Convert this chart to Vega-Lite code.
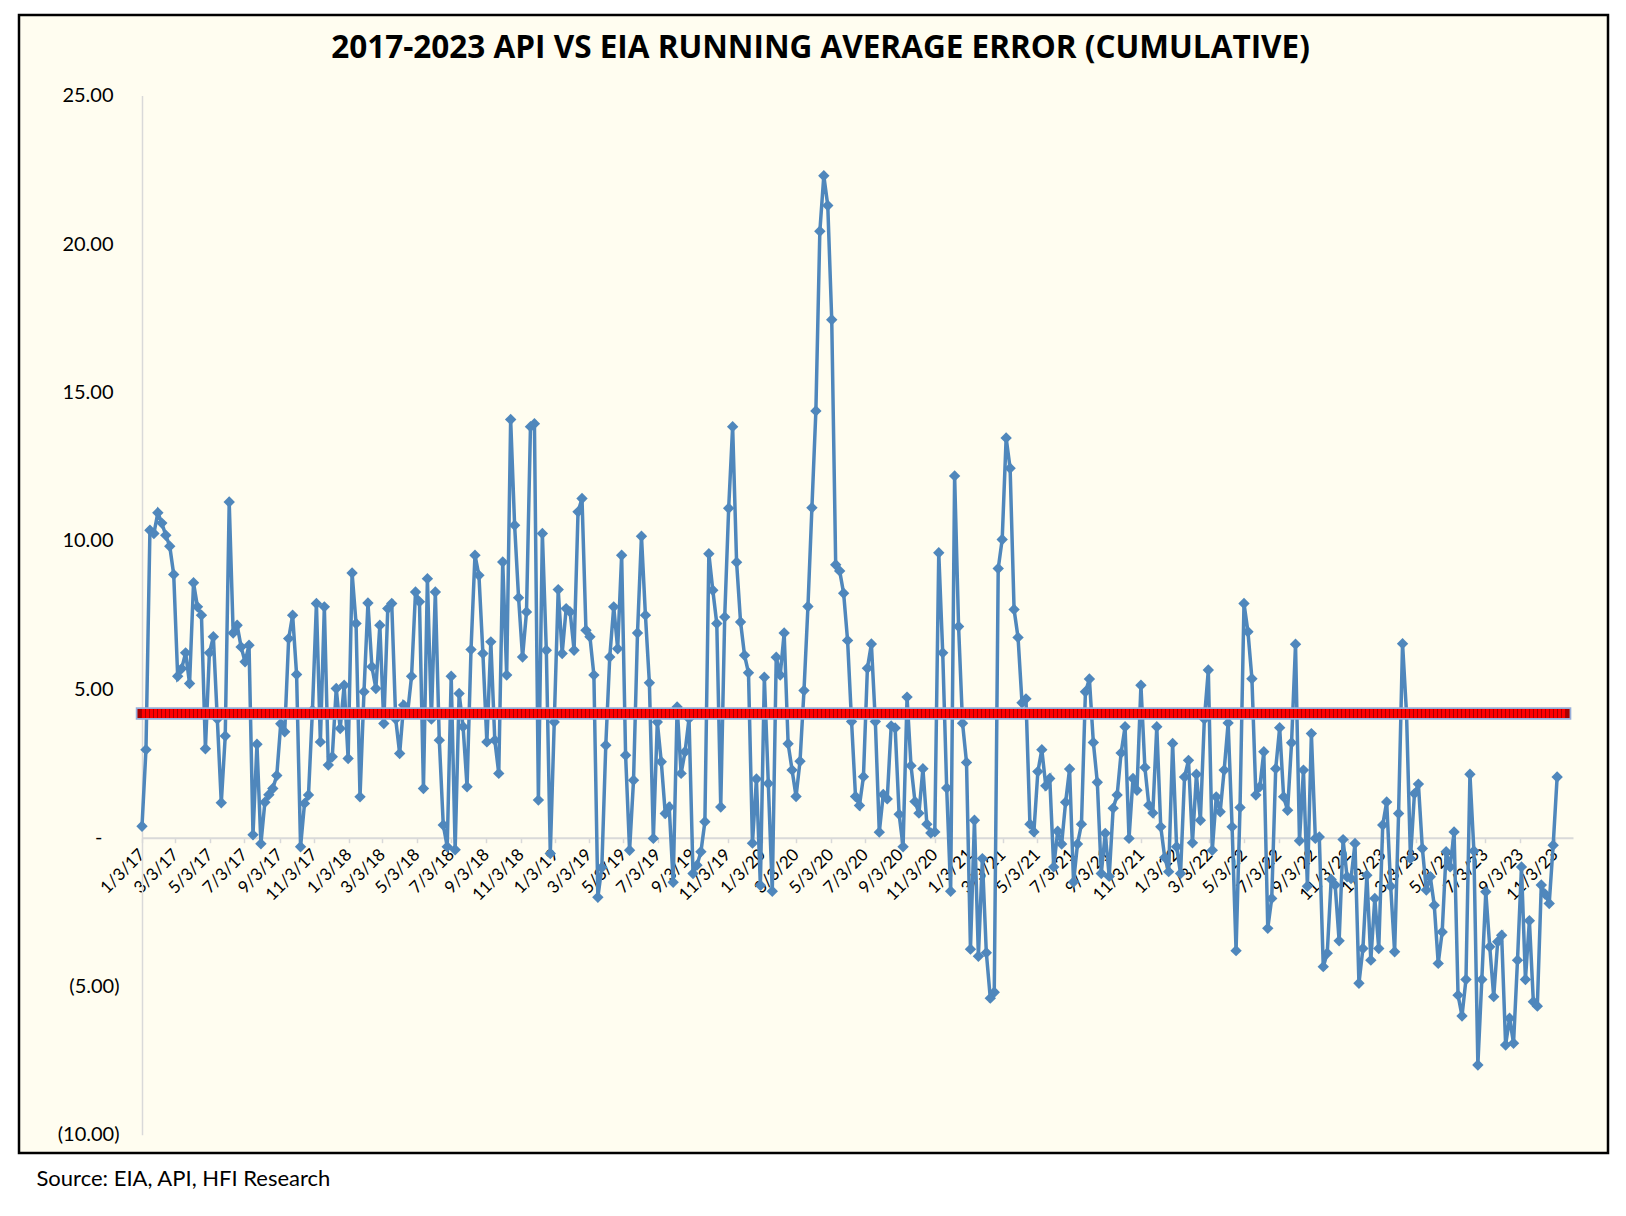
{
  "$schema": "https://vega.github.io/schema/vega-lite/v6.json",
  "width": 1589,
  "height": 1138,
  "autosize": {"type": "none"},
  "padding": {"left": 19, "top": 15, "right": 18, "bottom": 63},
  "background": "#ffffff",
  "config": {
    "view": {"fill": "#FFFDF0", "stroke": "#000000", "strokeWidth": 2.5}
  },
  "title": {
    "text": "2017-2023 API VS EIA RUNNING AVERAGE ERROR (CUMULATIVE)",
    "anchor": "middle",
    "frame": "group",
    "baseline": "alphabetic",
    "offset": -45,
    "dy": 29,
    "dx": 7,
    "font": "Open Sans",
    "fontSize": 31.5,
    "fontWeight": "bold",
    "color": "#000000"
  },
  "datasets": {
    "series": [
      {"d":"2017-01-03","v":0.39},{"d":"2017-01-10","v":2.97},{"d":"2017-01-17","v":10.36},{"d":"2017-01-24","v":10.25},{"d":"2017-01-31","v":10.95},
      {"d":"2017-02-07","v":10.6},{"d":"2017-02-14","v":10.19},{"d":"2017-02-21","v":9.82},{"d":"2017-02-28","v":8.87},
      {"d":"2017-03-07","v":5.44},{"d":"2017-03-14","v":5.7},{"d":"2017-03-21","v":6.23},{"d":"2017-03-28","v":5.2},
      {"d":"2017-04-04","v":8.59},{"d":"2017-04-11","v":7.78},{"d":"2017-04-18","v":7.5},{"d":"2017-04-25","v":3.0},
      {"d":"2017-05-02","v":6.23},{"d":"2017-05-09","v":6.77},{"d":"2017-05-16","v":4.0},{"d":"2017-05-23","v":1.18},{"d":"2017-05-30","v":3.43},
      {"d":"2017-06-06","v":11.31},{"d":"2017-06-13","v":6.9},{"d":"2017-06-20","v":7.16},{"d":"2017-06-27","v":6.43},
      {"d":"2017-07-04","v":5.93},{"d":"2017-07-11","v":6.49},{"d":"2017-07-18","v":0.1},{"d":"2017-07-25","v":3.15},
      {"d":"2017-08-01","v":-0.2},{"d":"2017-08-08","v":1.2},{"d":"2017-08-15","v":1.45},{"d":"2017-08-22","v":1.66},{"d":"2017-08-29","v":2.1},
      {"d":"2017-09-05","v":3.84},{"d":"2017-09-12","v":3.57},{"d":"2017-09-19","v":6.71},{"d":"2017-09-26","v":7.5},
      {"d":"2017-10-03","v":5.5},{"d":"2017-10-10","v":-0.3},{"d":"2017-10-17","v":1.16},{"d":"2017-10-24","v":1.44},{"d":"2017-10-31","v":4.3},
      {"d":"2017-11-07","v":7.89},{"d":"2017-11-14","v":3.23},{"d":"2017-11-21","v":7.78},{"d":"2017-11-28","v":2.45},
      {"d":"2017-12-05","v":2.73},{"d":"2017-12-12","v":5.03},{"d":"2017-12-19","v":3.68},{"d":"2017-12-26","v":5.14},
      {"d":"2018-01-02","v":2.67},{"d":"2018-01-09","v":8.92},{"d":"2018-01-16","v":7.22},{"d":"2018-01-23","v":1.38},{"d":"2018-01-30","v":4.92},
      {"d":"2018-02-06","v":7.91},{"d":"2018-02-13","v":5.76},{"d":"2018-02-20","v":5.03},{"d":"2018-02-27","v":7.16},
      {"d":"2018-03-06","v":3.85},{"d":"2018-03-13","v":7.72},{"d":"2018-03-20","v":7.89},{"d":"2018-03-27","v":4.0},
      {"d":"2018-04-03","v":2.84},{"d":"2018-04-10","v":4.47},{"d":"2018-04-17","v":4.2},{"d":"2018-04-24","v":5.44},
      {"d":"2018-05-01","v":8.28},{"d":"2018-05-08","v":7.95},{"d":"2018-05-15","v":1.66},{"d":"2018-05-22","v":8.73},{"d":"2018-05-29","v":4.0},
      {"d":"2018-06-05","v":8.28},{"d":"2018-06-12","v":3.29},{"d":"2018-06-19","v":0.43},{"d":"2018-06-26","v":-0.3},
      {"d":"2018-07-03","v":5.44},{"d":"2018-07-10","v":-0.4},{"d":"2018-07-17","v":4.86},{"d":"2018-07-24","v":3.74},{"d":"2018-07-31","v":1.72},
      {"d":"2018-08-07","v":6.34},{"d":"2018-08-14","v":9.52},{"d":"2018-08-21","v":8.84},{"d":"2018-08-28","v":6.21},
      {"d":"2018-09-04","v":3.23},{"d":"2018-09-11","v":6.6},{"d":"2018-09-18","v":3.29},{"d":"2018-09-25","v":2.17},
      {"d":"2018-10-02","v":9.29},{"d":"2018-10-09","v":5.48},{"d":"2018-10-16","v":14.09},{"d":"2018-10-23","v":10.53},{"d":"2018-10-30","v":8.09},
      {"d":"2018-11-06","v":6.09},{"d":"2018-11-13","v":7.61},{"d":"2018-11-20","v":13.85},{"d":"2018-11-27","v":13.95},
      {"d":"2018-12-04","v":1.27},{"d":"2018-12-11","v":10.25},{"d":"2018-12-18","v":6.32},{"d":"2018-12-25","v":-0.53},
      {"d":"2019-01-01","v":3.9},{"d":"2019-01-08","v":8.36},{"d":"2019-01-15","v":6.21},{"d":"2019-01-22","v":7.72},{"d":"2019-01-29","v":7.61},
      {"d":"2019-02-05","v":6.32},{"d":"2019-02-12","v":10.98},{"d":"2019-02-19","v":11.43},{"d":"2019-02-26","v":6.99},
      {"d":"2019-03-05","v":6.77},{"d":"2019-03-12","v":5.48},{"d":"2019-03-19","v":-2.0},{"d":"2019-03-26","v":-1.0},
      {"d":"2019-04-02","v":3.12},{"d":"2019-04-09","v":6.09},{"d":"2019-04-16","v":7.78},{"d":"2019-04-23","v":6.37},{"d":"2019-04-30","v":9.52},
      {"d":"2019-05-07","v":2.78},{"d":"2019-05-14","v":-0.42},{"d":"2019-05-21","v":1.94},{"d":"2019-05-28","v":6.9},
      {"d":"2019-06-04","v":10.16},{"d":"2019-06-11","v":7.5},{"d":"2019-06-18","v":5.22},{"d":"2019-06-25","v":-0.02},
      {"d":"2019-07-02","v":3.9},{"d":"2019-07-09","v":2.56},{"d":"2019-07-16","v":0.82},{"d":"2019-07-23","v":1.04},{"d":"2019-07-30","v":-1.5},
      {"d":"2019-08-06","v":4.41},{"d":"2019-08-13","v":2.17},{"d":"2019-08-20","v":2.9},{"d":"2019-08-27","v":4.02},
      {"d":"2019-09-03","v":-1.2},{"d":"2019-09-10","v":-0.92},{"d":"2019-09-17","v":-0.47},{"d":"2019-09-24","v":0.54},
      {"d":"2019-10-01","v":9.57},{"d":"2019-10-08","v":8.34},{"d":"2019-10-15","v":7.22},{"d":"2019-10-22","v":1.04},{"d":"2019-10-29","v":7.44},
      {"d":"2019-11-05","v":11.1},{"d":"2019-11-12","v":13.85},{"d":"2019-11-19","v":9.28},{"d":"2019-11-26","v":7.27},
      {"d":"2019-12-03","v":6.15},{"d":"2019-12-10","v":5.56},{"d":"2019-12-17","v":-0.18},{"d":"2019-12-24","v":1.98},{"d":"2019-12-31","v":-1.6},
      {"d":"2020-01-07","v":5.41},{"d":"2020-01-14","v":1.83},{"d":"2020-01-21","v":-1.8},{"d":"2020-01-28","v":6.08},
      {"d":"2020-02-04","v":5.48},{"d":"2020-02-11","v":6.9},{"d":"2020-02-18","v":3.17},{"d":"2020-02-25","v":2.28},
      {"d":"2020-03-03","v":1.39},{"d":"2020-03-10","v":2.58},{"d":"2020-03-17","v":4.96},{"d":"2020-03-24","v":7.79},{"d":"2020-03-31","v":11.12},
      {"d":"2020-04-07","v":14.38},{"d":"2020-04-14","v":20.43},{"d":"2020-04-21","v":22.3},{"d":"2020-04-28","v":21.3},
      {"d":"2020-05-05","v":17.45},{"d":"2020-05-12","v":9.2},{"d":"2020-05-19","v":8.99},{"d":"2020-05-26","v":8.24},
      {"d":"2020-06-02","v":6.65},{"d":"2020-06-09","v":3.92},{"d":"2020-06-16","v":1.39},{"d":"2020-06-23","v":1.09},{"d":"2020-06-30","v":2.06},
      {"d":"2020-07-07","v":5.71},{"d":"2020-07-14","v":6.53},{"d":"2020-07-21","v":3.92},{"d":"2020-07-28","v":0.19},
      {"d":"2020-08-04","v":1.46},{"d":"2020-08-11","v":1.31},{"d":"2020-08-18","v":3.77},{"d":"2020-08-25","v":3.7},
      {"d":"2020-09-01","v":0.79},{"d":"2020-09-08","v":-0.3},{"d":"2020-09-15","v":4.74},{"d":"2020-09-22","v":2.43},{"d":"2020-09-29","v":1.22},
      {"d":"2020-10-06","v":0.83},{"d":"2020-10-13","v":2.33},{"d":"2020-10-20","v":0.46},{"d":"2020-10-27","v":0.16},
      {"d":"2020-11-03","v":0.2},{"d":"2020-11-10","v":9.6},{"d":"2020-11-17","v":6.23},{"d":"2020-11-24","v":1.68},
      {"d":"2020-12-01","v":-1.8},{"d":"2020-12-08","v":12.19},{"d":"2020-12-15","v":7.12},{"d":"2020-12-22","v":3.86},{"d":"2020-12-29","v":2.54},
      {"d":"2021-01-05","v":-3.75},{"d":"2021-01-12","v":0.59},{"d":"2021-01-19","v":-3.99},{"d":"2021-01-26","v":-0.7},
      {"d":"2021-02-02","v":-3.87},{"d":"2021-02-09","v":-5.4},{"d":"2021-02-16","v":-5.2},{"d":"2021-02-23","v":9.07},
      {"d":"2021-03-02","v":10.05},{"d":"2021-03-09","v":13.47},{"d":"2021-03-16","v":12.45},{"d":"2021-03-23","v":7.69},{"d":"2021-03-30","v":6.75},
      {"d":"2021-04-06","v":4.55},{"d":"2021-04-13","v":4.68},{"d":"2021-04-20","v":0.46},{"d":"2021-04-27","v":0.2},
      {"d":"2021-05-04","v":2.23},{"d":"2021-05-11","v":2.97},{"d":"2021-05-18","v":1.75},{"d":"2021-05-25","v":2.0},
      {"d":"2021-06-01","v":-0.98},{"d":"2021-06-08","v":0.22},{"d":"2021-06-15","v":-0.21},{"d":"2021-06-22","v":1.2},{"d":"2021-06-29","v":2.32},
      {"d":"2021-07-06","v":-1.49},{"d":"2021-07-13","v":-0.21},{"d":"2021-07-20","v":0.46},{"d":"2021-07-27","v":4.92},
      {"d":"2021-08-03","v":5.35},{"d":"2021-08-10","v":3.21},{"d":"2021-08-17","v":1.87},{"d":"2021-08-24","v":-1.2},{"d":"2021-08-31","v":0.15},
      {"d":"2021-09-07","v":-1.3},{"d":"2021-09-14","v":1.0},{"d":"2021-09-21","v":1.44},{"d":"2021-09-28","v":2.86},
      {"d":"2021-10-05","v":3.74},{"d":"2021-10-12","v":-0.02},{"d":"2021-10-19","v":2.0},{"d":"2021-10-26","v":1.6},
      {"d":"2021-11-02","v":5.14},{"d":"2021-11-09","v":2.37},{"d":"2021-11-16","v":1.1},{"d":"2021-11-23","v":0.84},{"d":"2021-11-30","v":3.74},
      {"d":"2021-12-07","v":0.37},{"d":"2021-12-14","v":-0.66},{"d":"2021-12-21","v":-1.14},{"d":"2021-12-28","v":3.18},
      {"d":"2022-01-04","v":-0.3},{"d":"2022-01-11","v":-1.2},{"d":"2022-01-18","v":2.05},{"d":"2022-01-25","v":2.61},
      {"d":"2022-02-01","v":-0.17},{"d":"2022-02-08","v":2.14},{"d":"2022-02-15","v":0.59},{"d":"2022-02-22","v":4.0},
      {"d":"2022-03-01","v":5.65},{"d":"2022-03-08","v":-0.42},{"d":"2022-03-15","v":1.38},{"d":"2022-03-22","v":0.88},{"d":"2022-03-29","v":2.28},
      {"d":"2022-04-05","v":3.87},{"d":"2022-04-12","v":0.37},{"d":"2022-04-19","v":-3.8},{"d":"2022-04-26","v":1.02},
      {"d":"2022-05-03","v":7.89},{"d":"2022-05-10","v":6.94},{"d":"2022-05-17","v":5.36},{"d":"2022-05-24","v":1.44},{"d":"2022-05-31","v":1.72},
      {"d":"2022-06-07","v":2.9},{"d":"2022-06-14","v":-3.05},{"d":"2022-06-21","v":-2.04},{"d":"2022-06-28","v":2.33},
      {"d":"2022-07-05","v":3.71},{"d":"2022-07-12","v":1.38},{"d":"2022-07-19","v":0.93},{"d":"2022-07-26","v":3.2},
      {"d":"2022-08-02","v":6.52},{"d":"2022-08-09","v":-0.1},{"d":"2022-08-16","v":2.28},{"d":"2022-08-23","v":-1.63},{"d":"2022-08-30","v":3.51},
      {"d":"2022-09-06","v":-0.02},{"d":"2022-09-13","v":0.03},{"d":"2022-09-20","v":-4.34},{"d":"2022-09-27","v":-3.89},
      {"d":"2022-10-04","v":-1.4},{"d":"2022-10-11","v":-1.59},{"d":"2022-10-18","v":-3.47},{"d":"2022-10-25","v":-0.06},
      {"d":"2022-11-01","v":-1.31},{"d":"2022-11-08","v":-1.37},{"d":"2022-11-15","v":-0.19},{"d":"2022-11-22","v":-4.9},{"d":"2022-11-29","v":-3.73},
      {"d":"2022-12-06","v":-1.26},{"d":"2022-12-13","v":-4.12},{"d":"2022-12-20","v":-2.04},{"d":"2022-12-27","v":-3.73},
      {"d":"2023-01-03","v":0.43},{"d":"2023-01-10","v":1.21},{"d":"2023-01-17","v":-1.63},{"d":"2023-01-24","v":-3.84},{"d":"2023-01-31","v":0.82},
      {"d":"2023-02-07","v":6.54},{"d":"2023-02-14","v":4.2},{"d":"2023-02-21","v":-0.7},{"d":"2023-02-28","v":1.49},
      {"d":"2023-03-07","v":1.81},{"d":"2023-03-14","v":-0.36},{"d":"2023-03-21","v":-1.76},{"d":"2023-03-28","v":-1.31},
      {"d":"2023-04-04","v":-2.27},{"d":"2023-04-11","v":-4.23},{"d":"2023-04-18","v":-3.17},{"d":"2023-04-25","v":-0.47},
      {"d":"2023-05-02","v":-0.98},{"d":"2023-05-09","v":0.2},{"d":"2023-05-16","v":-5.3},{"d":"2023-05-23","v":-6.0},{"d":"2023-05-30","v":-4.77},
      {"d":"2023-06-06","v":2.14},{"d":"2023-06-13","v":-0.44},{"d":"2023-06-20","v":-7.65},{"d":"2023-06-27","v":-4.77},
      {"d":"2023-07-04","v":-1.82},{"d":"2023-07-11","v":-3.67},{"d":"2023-07-18","v":-5.35},{"d":"2023-07-25","v":-3.5},
      {"d":"2023-08-01","v":-3.28},{"d":"2023-08-08","v":-6.98},{"d":"2023-08-15","v":-6.08},{"d":"2023-08-22","v":-6.92},{"d":"2023-08-29","v":-4.12},
      {"d":"2023-09-05","v":-0.98},{"d":"2023-09-12","v":-4.77},{"d":"2023-09-19","v":-2.79},{"d":"2023-09-26","v":-5.52},
      {"d":"2023-10-03","v":-5.67},{"d":"2023-10-10","v":-1.59},{"d":"2023-10-17","v":-1.9},{"d":"2023-10-24","v":-2.21},{"d":"2023-10-31","v":-0.25},
      {"d":"2023-11-07","v":2.05}
    ],
    "average": [
      {"start": "2017-01-03", "end": "2023-11-21", "avg": 4.19}
    ]
  },
  "layer": [
    {
      "data": {"name": "series"},
      "mark": {"type": "line", "color": "#4F87BC", "strokeWidth": 3.5},
      "encoding": {
        "x": {
          "field": "d",
          "type": "temporal",
          "scale": {
            "type": "utc",
            "domain": [
              {"year": 2017, "month": 1, "date": 3, "utc": true},
              {"year": 2023, "month": 12, "date": 5, "utc": true}
            ],
            "range": [123, 1554]
          },
          "axis": {
            "orient": "bottom",
            "offset": -315.3,
            "tickCount": 100,
            "values": [
              {"year": 2017, "month": 1, "date": 3, "utc": true}, {"year": 2017, "month": 3, "date": 3, "utc": true},
              {"year": 2017, "month": 5, "date": 3, "utc": true}, {"year": 2017, "month": 7, "date": 3, "utc": true},
              {"year": 2017, "month": 9, "date": 3, "utc": true}, {"year": 2017, "month": 11, "date": 3, "utc": true},
              {"year": 2018, "month": 1, "date": 3, "utc": true}, {"year": 2018, "month": 3, "date": 3, "utc": true},
              {"year": 2018, "month": 5, "date": 3, "utc": true}, {"year": 2018, "month": 7, "date": 3, "utc": true},
              {"year": 2018, "month": 9, "date": 3, "utc": true}, {"year": 2018, "month": 11, "date": 3, "utc": true},
              {"year": 2019, "month": 1, "date": 3, "utc": true}, {"year": 2019, "month": 3, "date": 3, "utc": true},
              {"year": 2019, "month": 5, "date": 3, "utc": true}, {"year": 2019, "month": 7, "date": 3, "utc": true},
              {"year": 2019, "month": 9, "date": 3, "utc": true}, {"year": 2019, "month": 11, "date": 3, "utc": true},
              {"year": 2020, "month": 1, "date": 3, "utc": true}, {"year": 2020, "month": 3, "date": 3, "utc": true},
              {"year": 2020, "month": 5, "date": 3, "utc": true}, {"year": 2020, "month": 7, "date": 3, "utc": true},
              {"year": 2020, "month": 9, "date": 3, "utc": true}, {"year": 2020, "month": 11, "date": 3, "utc": true},
              {"year": 2021, "month": 1, "date": 3, "utc": true}, {"year": 2021, "month": 3, "date": 3, "utc": true},
              {"year": 2021, "month": 5, "date": 3, "utc": true}, {"year": 2021, "month": 7, "date": 3, "utc": true},
              {"year": 2021, "month": 9, "date": 3, "utc": true}, {"year": 2021, "month": 11, "date": 3, "utc": true},
              {"year": 2022, "month": 1, "date": 3, "utc": true}, {"year": 2022, "month": 3, "date": 3, "utc": true},
              {"year": 2022, "month": 5, "date": 3, "utc": true}, {"year": 2022, "month": 7, "date": 3, "utc": true},
              {"year": 2022, "month": 9, "date": 3, "utc": true}, {"year": 2022, "month": 11, "date": 3, "utc": true},
              {"year": 2023, "month": 1, "date": 3, "utc": true}, {"year": 2023, "month": 3, "date": 3, "utc": true},
              {"year": 2023, "month": 5, "date": 3, "utc": true}, {"year": 2023, "month": 7, "date": 3, "utc": true},
              {"year": 2023, "month": 9, "date": 3, "utc": true}, {"year": 2023, "month": 11, "date": 3, "utc": true}
            ],
            "labelExpr": "utcFormat(datum.value, '%-m/%-d/%y')",
            "labelAngle": -45,
            "labelAlign": "right",
            "labelBaseline": "middle",
            "labelFont": "Lato",
            "labelFontSize": 17,
            "labelColor": "#000000",
            "labelPadding": 9,
            "labelOverlap": false,
            "labelFlush": false,
            "labelBound": false,
            "tickSize": 5,
            "tickColor": "#D9D9D9",
            "tickWidth": 1.5,
            "domainColor": "#D9D9D9",
            "domainWidth": 2,
            "grid": false,
            "title": "Source: EIA, API, HFI Research",
            "titleX": 17,
            "titleY": 348,
            "titleAlign": "left",
            "titleAngle": 0,
            "titleBaseline": "alphabetic",
            "titleFont": "Lato",
            "titleFontSize": 22,
            "titleFontWeight": "normal",
            "titleColor": "#000000"
          }
        },
        "y": {
          "field": "v",
          "type": "quantitative",
          "scale": {"domain": [-10, 25], "range": [1119.7, 80.6], "nice": false, "zero": false},
          "axis": {
            "orient": "left",
            "offset": -123,
            "values": [-10, -5, 0, 5, 10, 15, 20, 25],
            "labelExpr": "datum.value == 0 ? '-' : (datum.value < 0 ? '(' + format(-datum.value, '.2f') + ')' : format(datum.value, '.2f'))",
            "labelFont": "Lato",
            "labelFontSize": 20,
            "labelColor": "#000000",
            "labelAlign": "right",
            "labelBaseline": "middle",
            "labelPadding": {
              "condition": [
                {"test": "datum.value == 0", "value": 40},
                {"test": "datum.value > 0", "value": 29}
              ],
              "value": 23
            },
            "ticks": false,
            "tickSize": 0,
            "domainColor": "#D9D9D9",
            "domainWidth": 1.5,
            "grid": false,
            "title": null
          }
        }
      }
    },
    {
      "data": {"name": "series"},
      "mark": {"type": "point", "shape": "diamond", "filled": true, "size": 130, "color": "#4F87BC", "opacity": 1},
      "encoding": {
        "x": {"field": "d", "type": "temporal"},
        "y": {"field": "v", "type": "quantitative"}
      }
    },
    {
      "data": {"name": "average"},
      "mark": {"type": "rule", "color": "#97AEDA", "strokeWidth": 12.5, "strokeCap": "square"},
      "encoding": {
        "x": {"field": "start", "type": "temporal"},
        "x2": {"field": "end"},
        "y": {"field": "avg", "type": "quantitative"}
      }
    },
    {
      "data": {"name": "average"},
      "mark": {"type": "rule", "color": "#A80000", "strokeWidth": 9, "strokeCap": "square"},
      "encoding": {
        "x": {"field": "start", "type": "temporal"},
        "x2": {"field": "end"},
        "y": {"field": "avg", "type": "quantitative"}
      }
    },
    {
      "data": {"name": "average"},
      "mark": {"type": "rule", "color": "#FF0000", "strokeWidth": 9, "strokeDash": [3, 1]},
      "encoding": {
        "x": {"field": "start", "type": "temporal"},
        "x2": {"field": "end"},
        "y": {"field": "avg", "type": "quantitative"}
      }
    }
  ]
}
